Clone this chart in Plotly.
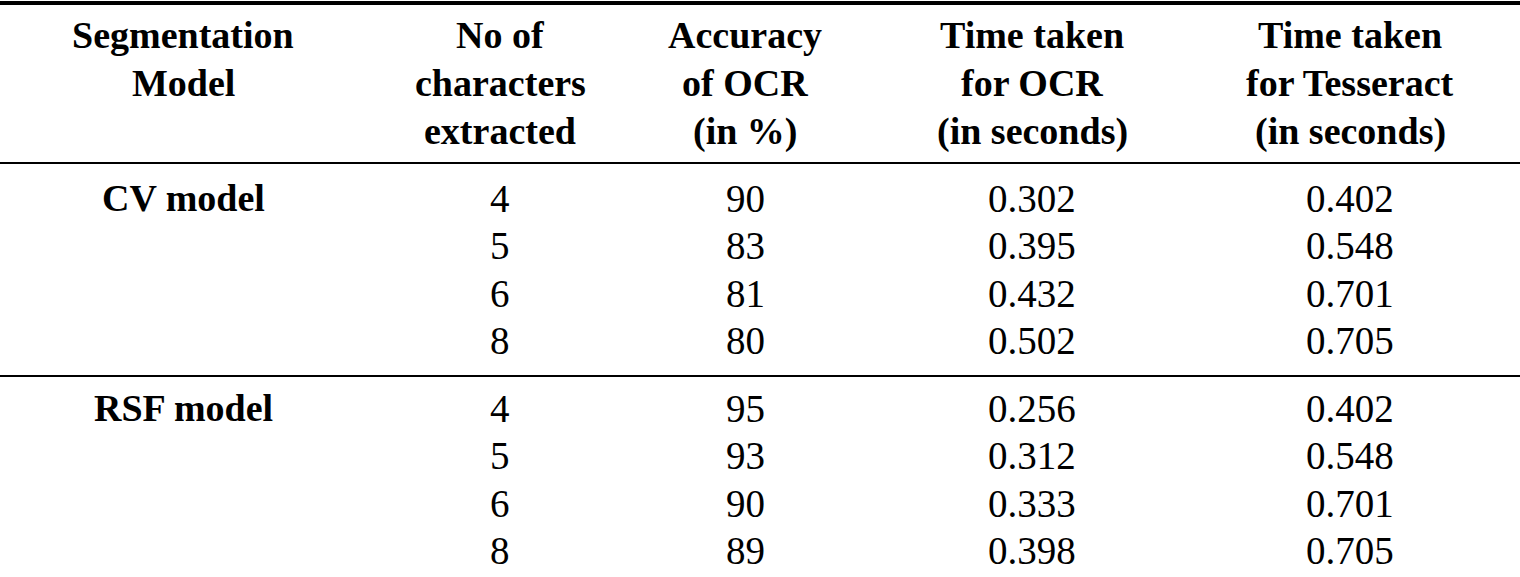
import plotly.graph_objects as go

headers = [["Segmentation", "Model"],
           ["No of", "characters", "extracted"],
           ["Accuracy", "of OCR", "(in %)"],
           ["Time taken", "for OCR", "(in seconds)"],
           ["Time taken", "for Tesseract", "(in seconds)"]]
models = ["CV model", "RSF model"]
chars = [[4, 5, 6, 8], [4, 5, 6, 8]]
accuracy = [[90, 83, 81, 80], [95, 93, 90, 89]]
ocr_time = [["0.302", "0.395", "0.432", "0.502"], ["0.256", "0.312", "0.333", "0.398"]]
tess_time = [["0.402", "0.548", "0.701", "0.705"], ["0.402", "0.548", "0.701", "0.705"]]

W, H = 1520, 577
col_x = [183, 500, 745, 1032, 1350]
header_y = [35, 83, 131]
group_y0 = [198, 408]
row_step = 47.5
FONT = "Liberation Serif"
fs_h = 38
fs = 39

fig = go.Figure()
ann = []
for i, h in enumerate(headers):
    for j, line in enumerate(h):
        ann.append(dict(x=col_x[i], y=header_y[j], text="<b>%s</b>" % line, showarrow=False,
                        font=dict(family=FONT, size=fs_h, color="black"), xanchor="center", yanchor="middle"))
for g in range(2):
    ann.append(dict(x=col_x[0], y=group_y0[g], text="<b>%s</b>" % models[g], showarrow=False,
                    font=dict(family=FONT, size=fs_h, color="black"), xanchor="center", yanchor="middle"))
    for r in range(4):
        y = group_y0[g] + r * row_step
        vals = [chars[g][r], accuracy[g][r], ocr_time[g][r], tess_time[g][r]]
        for c, v in enumerate(vals):
            ann.append(dict(x=col_x[c + 1], y=y, text=str(v), showarrow=False,
                            font=dict(family=FONT, size=fs, color="black"), xanchor="center", yanchor="middle"))

shapes = [
    dict(type="line", x0=0, x1=W, y0=3, y1=3, line=dict(color="black", width=4)),
    dict(type="line", x0=0, x1=W, y0=163, y1=163, line=dict(color="black", width=2)),
    dict(type="line", x0=0, x1=W, y0=376, y1=376, line=dict(color="black", width=2)),
]

fig.update_layout(width=W, height=H, margin=dict(l=0, r=0, t=0, b=0),
                  paper_bgcolor="white", plot_bgcolor="white",
                  xaxis=dict(range=[0, W], visible=False, fixedrange=True),
                  yaxis=dict(range=[H, 0], visible=False, fixedrange=True),
                  annotations=ann, shapes=shapes, showlegend=False)
fig.write_html("out.html", config={"displayModeBar": False},
               post_script="document.body.style.margin='0';document.body.style.overflow='hidden';")
